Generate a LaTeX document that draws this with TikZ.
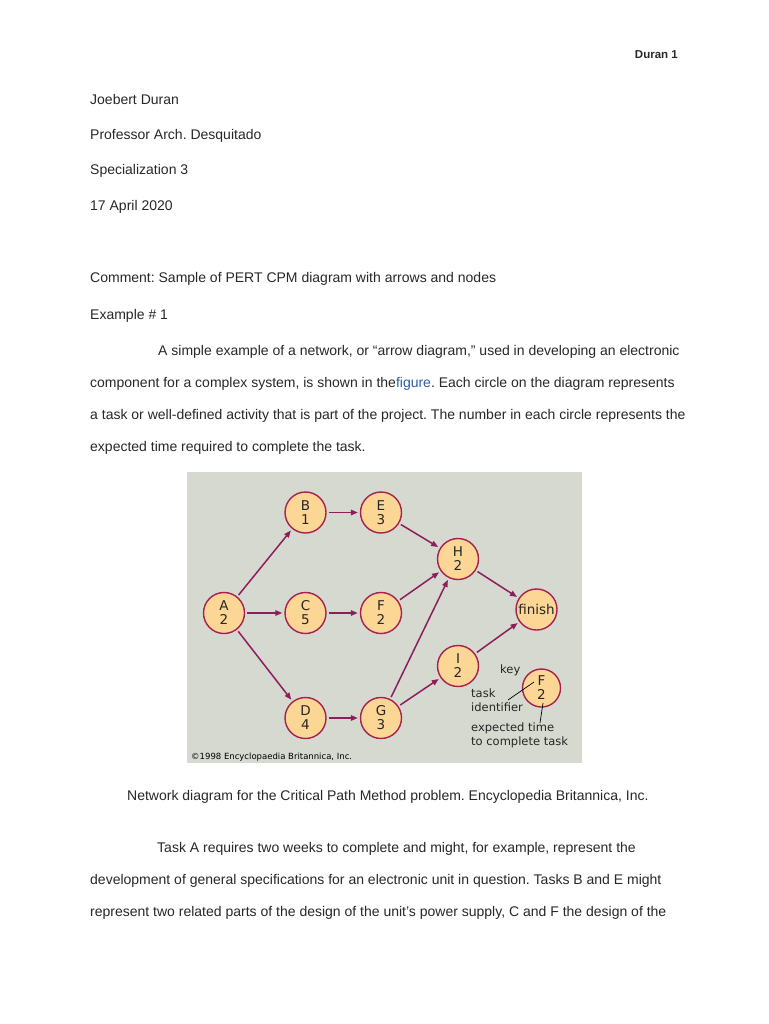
\documentclass[tikz,border=0pt]{standalone}
\usepackage{fontspec}
\setmainfont{Liberation Sans}
\newfontfamily\djv{DejaVu Sans}
\usetikzlibrary{arrows.meta}
\frenchspacing
\definecolor{bgbox}{RGB}{213,217,207}
\definecolor{nodefill}{RGB}{252,214,148}
\definecolor{nodeedge}{RGB}{168,32,82}
\definecolor{arrowc}{RGB}{140,30,92}
\definecolor{linkblue}{RGB}{47,95,160}
\definecolor{txt}{RGB}{40,40,40}
\tikzset{
  bodyline/.style={anchor=base west, inner sep=0pt, font=\fontsize{14}{16}\selectfont, text=txt},
  task/.style={circle, draw=nodeedge, fill=nodefill, line width=1.4pt, minimum size=41pt, inner sep=0pt, align=center, font=\djv\fontsize{13.5}{14}\selectfont, text=black!85},
  keytask/.style={task, minimum size=38pt},
  flow/.style={draw=arrowc, line width=1.5pt, -{Triangle[length=7pt,width=5.5pt]}, shorten >=2pt, shorten <=2pt},
  keytxt/.style={anchor=base west, inner sep=0pt, font=\djv\fontsize{11.5}{13}\selectfont, text=black!85},
  keyline/.style={draw=black, line width=0.7pt}
}
\begin{document}
\begin{tikzpicture}[x=1pt,y=-1pt]
\useasboundingbox (0,0) rectangle (768,1024);
\fill[white] (0,0) rectangle (768,1024);

% header
\node[anchor=base east, inner sep=0pt, font=\bfseries\fontsize{11.5}{13}\selectfont, text=txt] (hdr) at (678,59) {Duran 1};

\node[bodyline] (l1) at (90,105) {Joebert Duran};
\node[bodyline] (l2) at (90,140) {Professor Arch. Desquitado};
\node[bodyline] (l3) at (90,175) {Specialization 3};
\node[bodyline] (l4) at (90,211) {17 April 2020};
\node[bodyline] (l5) at (90,282) {Comment: Sample of PERT CPM diagram with arrows and nodes};
\node[bodyline] (l6) at (90,319) {Example \# 1};
\node[bodyline] (p1) at (158,355) {A simple example of a network, or “arrow diagram,” used in developing an electronic};
\node[bodyline] (p2) at (90,387) {component for a complex system, is shown in the\textcolor{linkblue}{figure}. Each circle on the diagram represents};
\node[bodyline] (p3) at (90,419) {a task or well-defined activity that is part of the project. The number in each circle represents the};
\node[bodyline] (p4) at (90,451) {expected time required to complete the task.};

% figure box
\fill[bgbox] (187,472) rectangle (582,763);

\node[task] (A) at (224,613) {A\\2};
\node[task] (B) at (305.5,512.5) {B\\1};
\node[task] (E) at (381,512.5) {E\\3};
\node[task] (C) at (305.5,613) {C\\5};
\node[task] (F) at (381,613) {F\\2};
\node[task] (H) at (458,559) {H\\2};
\node[task] (fin) at (536.5,609.5) {finish};
\node[task] (I) at (458,666) {I\\2};
\node[task] (D) at (305.5,718) {D\\4};
\node[task] (G) at (381,718) {G\\3};
\node[keytask] (K) at (541.5,688) {F\\2};

\draw[flow] (A) -- (B);
\draw[flow] (A) -- (C);
\draw[flow] (A) -- (D);
\draw[flow] (B) -- (E);
\draw[flow] (C) -- (F);
\draw[flow] (D) -- (G);
\draw[flow] (E) -- (H);
\draw[flow] (F) -- (H);
\draw[flow] (G) -- (H);
\draw[flow] (G) -- (I);
\draw[flow] (H) -- (fin);
\draw[flow] (I) -- (fin);

% key
\node[keytxt] (key) at (500,673) {key};
\node[keytxt] (kt1) at (471,697) {task};
\node[keytxt] (kt2) at (471,711.5) {identifier};
\node[keytxt] (ke1) at (471,731.5) {expected time};
\node[keytxt] (ke2) at (471,745) {to complete task};
\coordinate (kid) at (508,700);
\coordinate (kidF) at (534,682);
\coordinate (ktm) at (540,723);
\coordinate (ktm2) at (543,703);
\draw[keyline] (kid) -- (kidF);
\draw[keyline] (ktm) -- (ktm2);

\node[anchor=base west, inner sep=0pt, font=\djv\fontsize{8.5}{10}\selectfont] (copy) at (191,759) {©1998 Encyclopaedia Britannica, Inc.};

% caption and following text
\node[bodyline] (cap) at (127,800) {Network diagram for the Critical Path Method problem. Encyclopedia Britannica, Inc.};
\node[bodyline] (q1) at (157,852) {Task A requires two weeks to complete and might, for example, represent the};
\node[bodyline] (q2) at (90,884) {development of general specifications for an electronic unit in question. Tasks B and E might};
\node[bodyline] (q3) at (90,916) {represent two related parts of the design of the unit’s power supply, C and F the design of the};
\end{tikzpicture}
\end{document}
